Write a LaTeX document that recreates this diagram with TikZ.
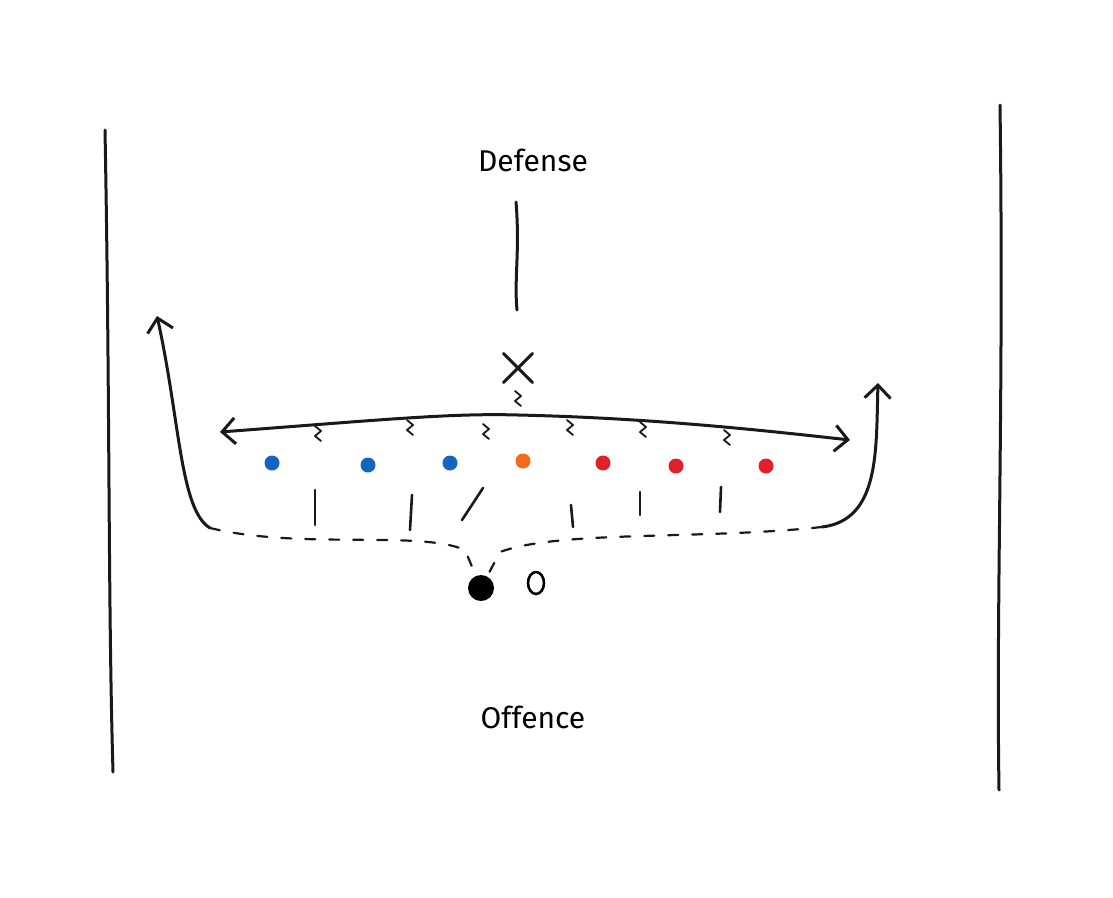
\documentclass[tikz,border=0pt]{standalone}
\usepackage{fontspec}
\setmainfont{Fira Sans}
\usetikzlibrary{arrows.meta,shapes.geometric}
\definecolor{bl}{HTML}{1565C0}
\definecolor{rd}{HTML}{E0202A}
\definecolor{og}{HTML}{F26B1D}
\begin{document}
\begin{tikzpicture}[x=1pt,y=-1pt,line width=3pt,line cap=round,line join=round,
  ink/.style={draw=black!90},
  tip/.style={Straight Barb[length=13pt,width=26pt]},
  arr/.style={ink,-{Straight Barb[length=13pt,width=26pt]}},
  squig/.style={ink,line width=1.8pt},
  tick/.style={ink,line width=2.6pt},
  dot/.style={circle,inner sep=0pt,minimum size=15pt},
  lbl/.style={font=\fontsize{30}{32}\selectfont}]
\useasboundingbox (0,0) rectangle (1113,897);
\draw[ink] (105,130) .. controls (110,400) and (108,600) .. (113,772);
\draw[ink] (1000,105) .. controls (1004,400) and (996,600) .. (999,790);
\node[lbl] (def) at (533,160) {Defense};
\node[lbl] (off) at (533,717) {Offence};
\coordinate (v1) at (516,202); \coordinate (v2) at (517,310);
\draw[ink] (v1) .. controls (520,250) and (514,280) .. (v2);
\node[minimum size=26pt,inner sep=0pt] (x) at (518,368) {};
\draw[ink] (x.north west) -- (x.south east) (x.north east) -- (x.south west);
\coordinate (hl) at (220,432); \coordinate (hr) at (850,440);
\draw[ink,{Straight Barb[length=13pt,width=26pt]}-{Straight Barb[length=13pt,width=26pt]}] (hl) .. controls (380,420) and (450,413) .. (518,415) .. controls (650,418) and (760,430) .. (hr);
\foreach \x/\y in {518/401,318/436,410/430,486/434,570/430,643/432,727/440}{
  \draw[squig] (\x-3,\y-10) -- (\x+3,\y-5) -- (\x-3,\y) -- (\x+3,\y+5);}
\node[dot,fill=bl] (b1) at (272,463) {};
\node[dot,fill=bl] (b2) at (368,465) {};
\node[dot,fill=bl] (b3) at (450,463) {};
\node[dot,fill=og] (o1) at (523,461) {};
\node[dot,fill=rd] (r1) at (603,463) {};
\node[dot,fill=rd] (r2) at (676,466) {};
\node[dot,fill=rd] (r3) at (766,466) {};
\foreach \a/\b/\c/\d in {315/490/315/525, 412/495/410/530, 483/488/462/520, 571/505/573/527, 640/492/640/515, 721/487/720/512}{
  \draw[tick] (\a,\b) -- (\c,\d);}
\coordinate (ls) at (210,528); \coordinate (le) at (157,316);
\coordinate (rs) at (822,527); \coordinate (re) at (878,383);
\draw[arr] (ls) .. controls (180,510) and (180,420) .. (le);
\draw[arr] (rs) .. controls (880,520) and (876,450) .. (re);
\node[circle,fill=black,minimum size=26pt,inner sep=0pt] (c) at (481,588) {};
\node[ellipse,draw,line width=2.6pt,minimum width=16pt,minimum height=22pt,inner sep=0pt] (q) at (536,583) {};
\draw[ink,dash pattern=on 10pt off 14pt,line width=2.2pt] (ls) .. controls (300,550) and (420,530) .. (465,550) -- (c);
\draw[ink,dash pattern=on 10pt off 14pt,line width=2.2pt] (rs) .. controls (700,540) and (560,530) .. (500,552) -- (c);
\end{tikzpicture}
\end{document}
